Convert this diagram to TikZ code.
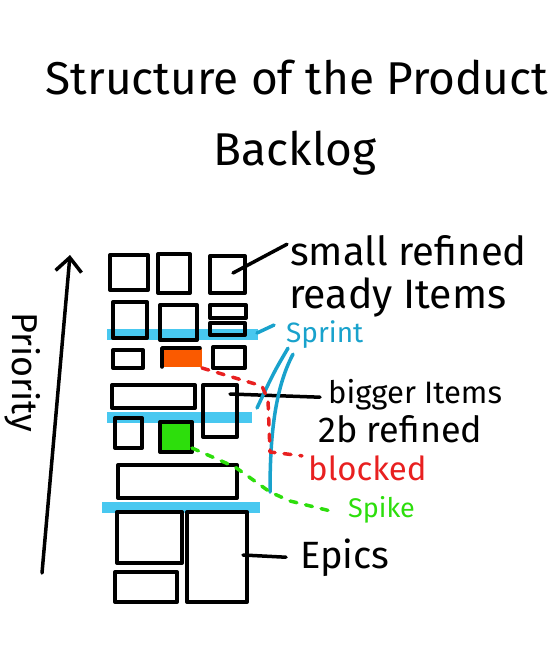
\documentclass[tikz,border=0pt]{standalone}
\usepackage{fontspec}
\setmainfont{Fira Sans}
\usetikzlibrary{arrows.meta}
\definecolor{barblue}{RGB}{72,200,240}
\definecolor{sprintblue}{RGB}{25,162,204}
\definecolor{blockred}{RGB}{232,32,32}
\definecolor{spikegreen}{RGB}{45,222,12}
\definecolor{itemorange}{RGB}{250,90,0}
\tikzset{
  item/.style={draw,line width=4pt,line join=round},
  bar/.style={barblue,line width=11pt},
  pen/.style={line width=3.5pt,line cap=round,line join=round},
  hand/.style={font=\fontsize{#1}{#1}\selectfont,inner sep=0pt,anchor=base west},
  dashline/.style={pen,dash pattern=on 7pt off 9pt},
}

\begin{document}
\begin{tikzpicture}[x=1pt,y=-1pt]
            \useasboundingbox (0,0) rectangle (552,647);

            \node[hand=46,anchor=base] (title) at (297,95) {Structure of the Product};
            \node[hand=46,anchor=base] (backlog) at (295,165) {Backlog};

            \coordinate (arrowfoot) at (42,573);
            \coordinate (arrowtip) at (70,255);
            \draw[pen,-{Straight Barb[length=14pt,width=26pt]}] (arrowfoot) -- (arrowtip);
            \node[hand=36,anchor=center,rotate=-90] (priority) at (23,372) {Priority};

            \draw[bar] (107,334) -- (258,334);
            \draw[bar] (107,417) -- (252,417);
            \draw[bar] (102,507) -- (260,507);

            \draw[item] (110,255) rectangle (148,290);
            \draw[item] (158,254) rectangle (190,293);
            \draw[item] (210,256) rectangle (245,293);

            \draw[item] (113,302) rectangle (147,338);
            \draw[item] (160,305) rectangle (197,340);
            \draw[item] (210,305) rectangle (246,318);
            \draw[item] (210,323) rectangle (245,335);

            \draw[item] (113,350) rectangle (143,368);
            \fill[itemorange] (162,348) rectangle (202,367);
            \draw[pen] (162,367) -- (162,348) -- (200,348);
            \draw[item] (213,347) rectangle (245,368);

            \draw[item] (112,385) rectangle (195,408);
            \draw[item] (203,385) rectangle (237,437);

            \draw[item] (115,418) rectangle (142,448);
            \draw[item,fill=spikegreen] (160,422) rectangle (192,452);

            \draw[item] (118,465) rectangle (237,498);

            \draw[item] (117,512) rectangle (182,563);
            \draw[item] (187,512) rectangle (247,602);
            \draw[item] (115,572) rectangle (177,602);

            \node[hand=40] (small) at (290,265) {small refined};
            \node[hand=41] (ready) at (289,308) {ready Items};
            \node[hand=28,text=sprintblue] (sprint) at (286,342) {Sprint};
            \node[hand=31] (bigger) at (328,403) {bigger Items};
            \node[hand=36] (refine) at (318,442) {2b refined};
            \node[hand=33,text=blockred] (blocked) at (308,480) {blocked};
            \node[hand=27,text=spikegreen] (spike) at (348,517) {Spike};
            \node[hand=38] (epics) at (300,568) {Epics};

            \coordinate (smallitem) at (233,273);
            \coordinate (biggeritem) at (230,394);
            \coordinate (epicitem) at (243,555);
            \coordinate (bar1) at (257,333);
            \coordinate (bar2) at (257,408);
            \coordinate (bar3) at (270,492);
            \coordinate (orangeitem) at (202,368);
            \coordinate (greenitem) at (192,448);

            \draw[pen] (smallitem) -- ([xshift=-3pt,yshift=6pt]small.west);
            \draw[pen] (epicitem) -- ([xshift=-14pt]epics.west);
            \draw[pen] (biggeritem) -- ([xshift=-8pt,yshift=-3pt]bigger.west);

            \draw[pen,sprintblue] (bar1) -- ([xshift=-12pt,yshift=9pt]sprint.west);
            \draw[pen,sprintblue] ([xshift=2pt]sprint.south west) .. controls (274,372) .. (bar2);
            \draw[pen,sprintblue] ([xshift=7pt,yshift=-6pt]sprint.south west) .. controls (274,390) and (270,440) .. (bar3);

            \draw[dashline,blockred] (orangeitem) -- (262,386) -- (268,400) -- (270,452) -- ([xshift=-6pt,yshift=12pt]blocked.west);
            \draw[dashline,spikegreen] (greenitem) -- (235,467) -- (270,492) -- (290,501) -- ([xshift=-16pt,yshift=-2pt]spike.west);
        \end{tikzpicture}
\end{document}
